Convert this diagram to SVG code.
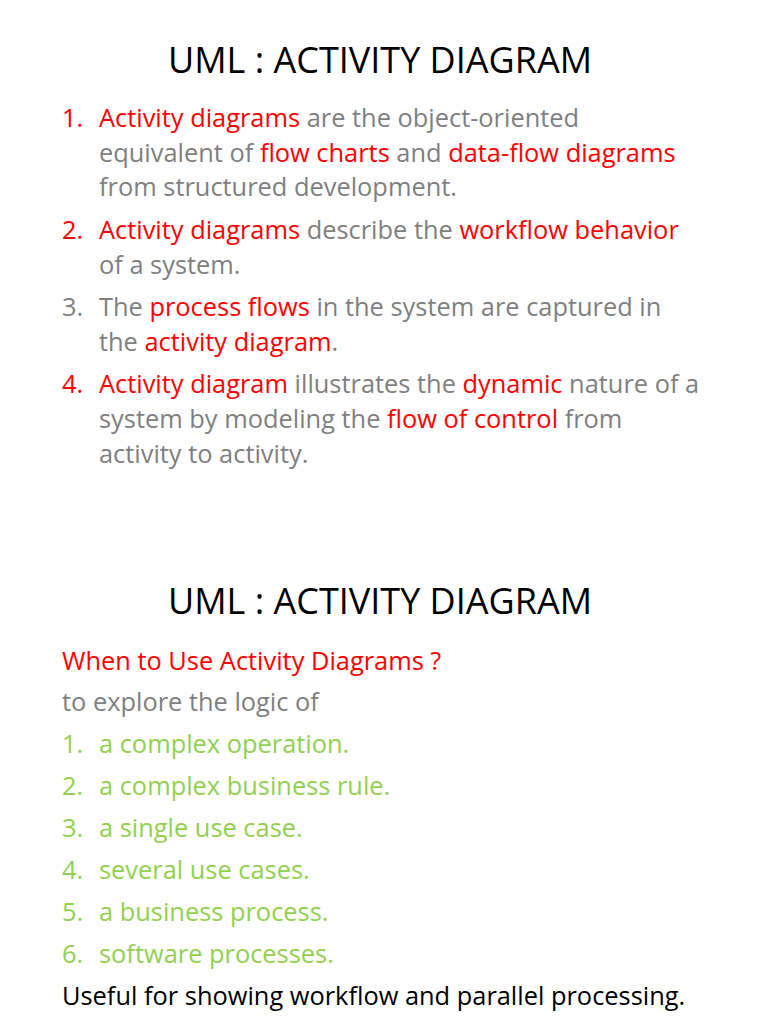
<svg xmlns="http://www.w3.org/2000/svg" width="768" height="1024" viewBox="0 0 768 1024">
<style>
text{font-family:"Open Sans","Liberation Sans",sans-serif;font-size:25.4px;fill:#7f7f7f}
.t{font-size:36px;fill:#000}
.r{fill:#ff0000}.g{fill:#92d050}.k{fill:#000}
</style>
<rect width="768" height="1024" fill="#fff"/>
<g id="slide1">
<text class="t" x="380" y="73" text-anchor="middle">UML : ACTIVITY DIAGRAM</text>
<text x="62" y="127" class="r">1.</text>
<text x="99" y="127"><tspan class="r">Activity diagrams</tspan> are the object-oriented</text>
<text x="99" y="162">equivalent of <tspan class="r">flow charts</tspan> and <tspan class="r">data-flow diagrams</tspan></text>
<text x="99" y="196">from structured development.</text>
<text x="62" y="239" class="r">2.</text>
<text x="99" y="239"><tspan class="r">Activity diagrams</tspan> describe the <tspan class="r">workflow behavior</tspan></text>
<text x="99" y="274">of a system.</text>
<text x="62" y="316">3.</text>
<text x="99" y="316">The <tspan class="r">process flows</tspan> in the system are captured in</text>
<text x="99" y="351">the <tspan class="r">activity diagram</tspan>.</text>
<text x="62" y="393" class="r">4.</text>
<text x="99" y="393"><tspan class="r">Activity diagram</tspan> illustrates the <tspan class="r">dynamic</tspan> nature of a</text>
<text x="99" y="428">system by modeling the <tspan class="r">flow of control</tspan> from</text>
<text x="99" y="463">activity to activity.</text>
</g>
<g id="slide2">
<text class="t" x="380" y="614" text-anchor="middle">UML : ACTIVITY DIAGRAM</text>
<text x="62" y="670" class="r">When to Use Activity Diagrams ?</text>
<text x="62" y="711">to explore the logic of</text>
<text x="62" y="753" class="g">1.</text><text x="99" y="753" class="g">a complex operation.</text>
<text x="62" y="795" class="g">2.</text><text x="99" y="795" class="g">a complex business rule.</text>
<text x="62" y="837" class="g">3.</text><text x="99" y="837" class="g">a single use case.</text>
<text x="62" y="879" class="g">4.</text><text x="99" y="879" class="g">several use cases.</text>
<text x="62" y="921" class="g">5.</text><text x="99" y="921" class="g">a business process.</text>
<text x="62" y="963" class="g">6.</text><text x="99" y="963" class="g">software processes.</text>
<text x="62" y="1005" class="k">Useful for showing workflow and parallel processing.</text>
</g>
</svg>
